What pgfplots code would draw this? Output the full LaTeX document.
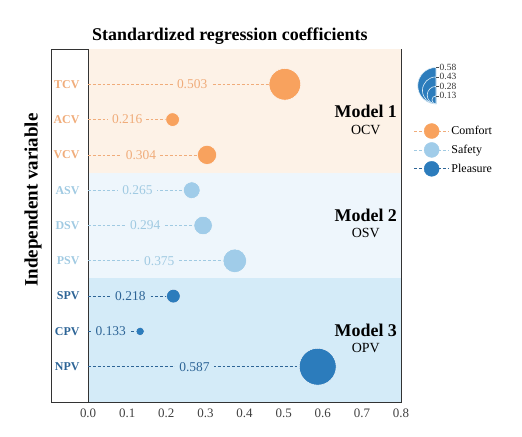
\documentclass[border=0pt]{standalone}
\usepackage{pgfplots}
\usepackage{pgfplotstable}
\pgfplotsset{compat=1.18}
\usepackage{fontspec}
\setmainfont{Liberation Serif}
\definecolor{bgA}{RGB}{253,242,231}
\definecolor{bgB}{RGB}{238,246,252}
\definecolor{bgC}{RGB}{212,235,248}
\definecolor{cOr}{RGB}{248,162,94}
\definecolor{cOrT}{RGB}{240,172,122}
\definecolor{cLb}{RGB}{160,204,233}
\definecolor{cLbT}{RGB}{160,202,226}
\definecolor{cDb}{RGB}{44,124,188}
\definecolor{cDbT}{RGB}{45,100,150}

\pgfplotstableread{
x y lx lab
0.503 9 0.266 0.503
0.216 8 0.100 0.216
0.304 7 0.135 0.304
}\comfort
\pgfplotstableread{
x y lx lab
0.265 6 0.126 0.265
0.294 5 0.146 0.294
0.375 4 0.182 0.375
}\safety
\pgfplotstableread{
x y lx lab
0.218 3 0.108 0.218
0.133 2 0.058 0.133
0.587 1 0.272 0.587
}\pleasure

\pgfplotsset{
  bubble/.style={scatter, only marks, mark=*, forget plot,
    visualization depends on={31.5*\thisrow{x} \as \rad},
    scatter/use mapped color={draw=white, fill=#1},
    scatter/@pre marker code/.append style={/tikz/mark size=\rad pt, /tikz/line width=0.8pt}},
  vlab/.style n args={2}{only marks, mark=none, forget plot, point meta=explicit symbolic,
    nodes near coords, nodes near coords align={center},
    every node near coord/.style={anchor=center, fill=#1, text=#2, inner xsep=4bp, inner ysep=1bp,
      font=\fontsize{13.5}{15}\selectfont}},
  dline/.style={#1, dash pattern=on 2.8bp off 2bp, line width=0.7pt, forget plot},
}

\begin{document}
\begin{tikzpicture}
\path[use as bounding box] (-51bp,-35bp) rectangle (471bp,402bp);
\begin{axis}[
  at={(0,0)}, anchor=south west,
  scale only axis, width=350bp, height=353bp,
  xmin=-0.0949, xmax=0.8, ymin=0, ymax=10,
  clip=false,
  axis line style={line width=0.9pt, draw=black!80},
  major tick length=0pt,
  xtick={0,0.1,0.2,0.3,0.4,0.5,0.6,0.7,0.8},
  xticklabels={0.0,0.1,0.2,0.3,0.4,0.5,0.6,0.7,0.8},
  xticklabel style={font=\fontsize{13}{15}\selectfont, text=black!75, anchor=base, yshift=-15.5bp},
  ytick={1,2,3,4,5,6,7,8,9},
  yticklabels={\textcolor{cDbT}{NPV},\textcolor{cDbT}{CPV},\textcolor{cDbT}{SPV},
    \textcolor{cLbT}{PSV},\textcolor{cLbT}{DSV},\textcolor{cLbT}{ASV},
    \textcolor{cOrT}{VCV},\textcolor{cOrT}{ACV},\textcolor{cOrT}{TCV}},
  yticklabel style={font=\bfseries\fontsize{12}{14}\selectfont, anchor=east, xshift=32bp},
  title={\bfseries Standardized regression coefficients},
  title style={font=\fontsize{18}{21}\selectfont, at={(0.511,1)}, anchor=base, yshift=3bp},
  legend style={at={(1.036,0.79)}, anchor=north west, draw=none, fill=none,
    font=\fontsize{12}{14}\selectfont, inner sep=0pt, row sep=3.5bp},
  legend cell align=left,
]
% backgrounds
\addplot[fill=bgA, draw=none, forget plot] coordinates {(0,6.5) (0.8,6.5) (0.8,10) (0,10)};
\addplot[fill=bgB, draw=none, forget plot] coordinates {(0,3.5) (0.8,3.5) (0.8,6.5) (0,6.5)};
\addplot[fill=bgC, draw=none, forget plot] coordinates {(0,0) (0.8,0) (0.8,3.5) (0,3.5)};
\addplot[black!80, line width=0.9pt, forget plot] coordinates {(0,0) (0,10)};

% bubbles
\addplot[bubble=cOr] table[x=x, y=y] {\comfort};
\addplot[bubble=cLb] table[x=x, y=y] {\safety};
\addplot[bubble=cDb] table[x=x, y=y] {\pleasure};

% dashed lines
\addplot[dline=cOrT] coordinates {(0,9) (0.503,9)};
\addplot[dline=cOrT] coordinates {(0,8) (0.216,8)};
\addplot[dline=cOrT] coordinates {(0,7) (0.304,7)};
\addplot[dline=cLbT] coordinates {(0,6) (0.265,6)};
\addplot[dline=cLbT] coordinates {(0,5) (0.294,5)};
\addplot[dline=cLbT] coordinates {(0,4) (0.375,4)};
\addplot[dline=cDbT] coordinates {(0,3) (0.218,3)};
\addplot[dline=cDbT] coordinates {(0,2) (0.133,2)};
\addplot[dline=cDbT] coordinates {(0,1) (0.587,1)};

% value labels
\addplot[vlab={bgA}{cOrT}] table[x=lx, y=y, meta=lab] {\comfort};
\addplot[vlab={bgB}{cLbT}] table[x=lx, y=y, meta=lab] {\safety};
\addplot[vlab={bgC}{cDbT}] table[x=lx, y=y, meta=lab] {\pleasure};

% model labels
\node[font=\bfseries\fontsize{18}{20}\selectfont] at (axis cs:0.71,8.22) {Model 1};
\node[font=\fontsize{14}{16}\selectfont] at (axis cs:0.71,7.70) {OCV};
\node[font=\bfseries\fontsize{18}{20}\selectfont] at (axis cs:0.71,5.30) {Model 2};
\node[font=\fontsize{14}{16}\selectfont] at (axis cs:0.71,4.79) {OSV};
\node[font=\bfseries\fontsize{18}{20}\selectfont] at (axis cs:0.71,2.04) {Model 3};
\node[font=\fontsize{14}{16}\selectfont] at (axis cs:0.71,1.53) {OPV};

% y label
\node[rotate=90, font=\bfseries\fontsize{19}{21}\selectfont] at (axis description cs:-0.0514,0.572) {Independent variable};

% legend
\addlegendimage{legend image code/.code={\draw[cOrT, dash pattern=on 2.8bp off 2bp, line width=0.7pt] (0bp,0bp) -- (35bp,0bp); \fill[cOr] (17.5bp,0bp) circle (7.5bp);}}
\addlegendentry{Comfort}
\addlegendimage{legend image code/.code={\draw[cLbT, dash pattern=on 2.8bp off 2bp, line width=0.7pt] (0bp,0bp) -- (35bp,0bp); \fill[cLb] (17.5bp,0bp) circle (7.5bp);}}
\addlegendentry{Safety}
\addlegendimage{legend image code/.code={\draw[cDbT, dash pattern=on 2.8bp off 2bp, line width=0.7pt] (0bp,0bp) -- (35bp,0bp); \fill[cDb] (17.5bp,0bp) circle (7.5bp);}}
\addlegendentry{Pleasure}
\end{axis}

% size legend
\foreach \v in {0.58,0.43,0.28,0.13}{
  \pgfmathsetmacro{\r}{31.5*\v}
  \pgfmathsetmacro{\yy}{298+2*\r}
  \fill[cDb, draw=white!70!cLb, line width=0.6pt] (385bp,298bp) arc[start angle=270, end angle=90, radius=\r bp] -- cycle;
  \draw[black!70, line width=0.5pt] (385bp,\yy bp) -- (388bp,\yy bp);
  \node[anchor=west, inner sep=0.5bp, font=\fontsize{9.5}{10}\selectfont, text=black!80] at (388bp,\yy bp) {\v};
}
\end{tikzpicture}
\end{document}
